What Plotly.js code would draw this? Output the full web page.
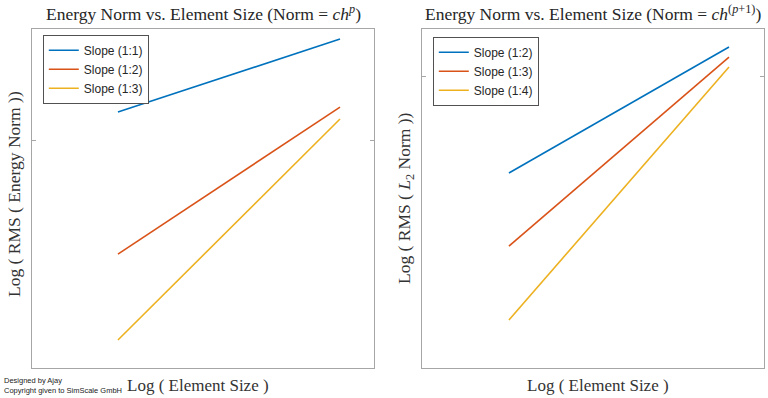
<!DOCTYPE html>
<html>
<head>
<meta charset="utf-8">
<script src="https://cdn.plot.ly/plotly-3.0.1.min.js"></script>
<style>html,body{margin:0;padding:0;background:#fff;}#chart{width:768px;height:398px;}</style>
</head>
<body>
<div id="chart"></div>
<script>
// Element size (two points per line, log-log)
const elementSize = [1, 10];

// Left panel: Energy norm (slopes 1,2,3)
const leftNames = ['Slope (1:1)', 'Slope (1:2)', 'Slope (1:3)'];
const leftSlope1 = [2.42, 24.2];
const leftSlope2 = [0.0274, 2.83];
const leftSlope3 = [0.00182, 1.94];

// Right panel: L2 norm (slopes 2,3,4)
const rightNames = ['Slope (1:2)', 'Slope (1:3)', 'Slope (1:4)'];
const rightSlope2 = [0.0288, 2.88];
const rightSlope3 = [0.0020, 2.00];
const rightSlope4 = [0.000134, 1.39];

const colors = ['#0072BD', '#D95319', '#EDB120'];

const traces = [];
[leftSlope1, leftSlope2, leftSlope3].forEach((y, i) => {
  traces.push({x: elementSize, y: y, type: 'scatter', mode: 'lines', name: leftNames[i],
    line: {color: colors[i], width: 1.6}, xaxis: 'x', yaxis: 'y', legend: 'legend'});
});
[rightSlope2, rightSlope3, rightSlope4].forEach((y, i) => {
  traces.push({x: elementSize, y: y, type: 'scatter', mode: 'lines', name: rightNames[i],
    line: {color: colors[i], width: 1.6}, xaxis: 'x2', yaxis: 'y2', legend: 'legend2'});
});

const serif = 'Liberation Serif, Times New Roman, serif';
const sans = 'Liberation Sans, Arial, sans-serif';

function ax(extra) {
  return Object.assign({
    type: 'log', showgrid: false, zeroline: false, showline: true, mirror: 'ticks',
    linecolor: '#a6a6a6', linewidth: 1, ticks: 'inside', ticklen: 4, tickcolor: '#a6a6a6',
    showticklabels: false
  }, extra);
}

const legendStyle = {
  xanchor: 'left', yanchor: 'top', bgcolor: '#ffffff', bordercolor: '#262626', borderwidth: 0.8,
  font: {family: sans, size: 12, color: '#262626'}, tracegroupgap: 0, itemwidth: 30
};

const layout = {
  width: 768, height: 398,
  margin: {l: 0, r: 0, t: 0, b: 0},
  paper_bgcolor: '#ffffff', plot_bgcolor: '#ffffff',
  showlegend: true,
  xaxis: ax({domain: [32/768, 374/768], range: [-0.387, 1.153], anchor: 'y', tickvals: []}),
  yaxis: ax({domain: [30/398, 369/398], range: [-3.123, 1.521], anchor: 'x', tickvals: [1]}),
  xaxis2: ax({domain: [422/768, 764/768], range: [-0.395, 1.159], anchor: 'y2', tickvals: []}),
  yaxis2: ax({domain: [30/398, 369/398], range: [-4.635, 0.746], anchor: 'x2', tickvals: [1]}),
  legend: Object.assign({x: 43/768, y: 1 - 35/398}, legendStyle),
  legend2: Object.assign({x: 433/768, y: 1 - 37/398}, legendStyle),
  annotations: [
    {text: 'Energy Norm vs. Element Size (Norm = <i>ch</i><sup><i>p</i></sup>)', xref: 'paper', yref: 'paper',
     x: 203/768, y: 1 - 13/398, xanchor: 'center', yanchor: 'middle', showarrow: false,
     font: {family: serif, size: 17.5, color: '#262626'}},
    {text: 'Energy Norm vs. Element Size (Norm = <i>ch</i><sup>(<i>p</i>+1)</sup>)', xref: 'paper', yref: 'paper',
     x: 593/768, y: 1 - 13/398, xanchor: 'center', yanchor: 'middle', showarrow: false,
     font: {family: serif, size: 17.5, color: '#262626'}},
    {text: 'Log ( Element Size )', xref: 'paper', yref: 'paper',
     x: 198/768, y: 1 - 385/398, xanchor: 'center', yanchor: 'middle', showarrow: false,
     font: {family: serif, size: 17, color: '#333'}},
    {text: 'Log ( Element Size )', xref: 'paper', yref: 'paper',
     x: 598/768, y: 1 - 385/398, xanchor: 'center', yanchor: 'middle', showarrow: false,
     font: {family: serif, size: 17, color: '#333'}},
    {text: 'Log ( RMS ( Energy Norm ))', xref: 'paper', yref: 'paper', textangle: -90,
     x: 14/768, y: 1 - 194/398, xanchor: 'center', yanchor: 'middle', showarrow: false,
     font: {family: serif, size: 17.5, color: '#333'}},
    {text: 'Log ( RMS ( <i>L</i><sub>2</sub> Norm ))', xref: 'paper', yref: 'paper', textangle: -90,
     x: 405/768, y: 1 - 198/398, xanchor: 'center', yanchor: 'middle', showarrow: false,
     font: {family: serif, size: 17.5, color: '#333'}},
    {text: 'Designed by Ajay<br>Copyright given to SimScale GmbH', xref: 'paper', yref: 'paper',
     x: 2/768, y: 1 - 385/398, xanchor: 'left', yanchor: 'middle', align: 'left', showarrow: false,
     font: {family: sans, size: 7.5, color: '#222'}}
  ]
};

Plotly.newPlot('chart', traces, layout, {displayModeBar: false, staticPlot: true});
</script>
</body>
</html>
